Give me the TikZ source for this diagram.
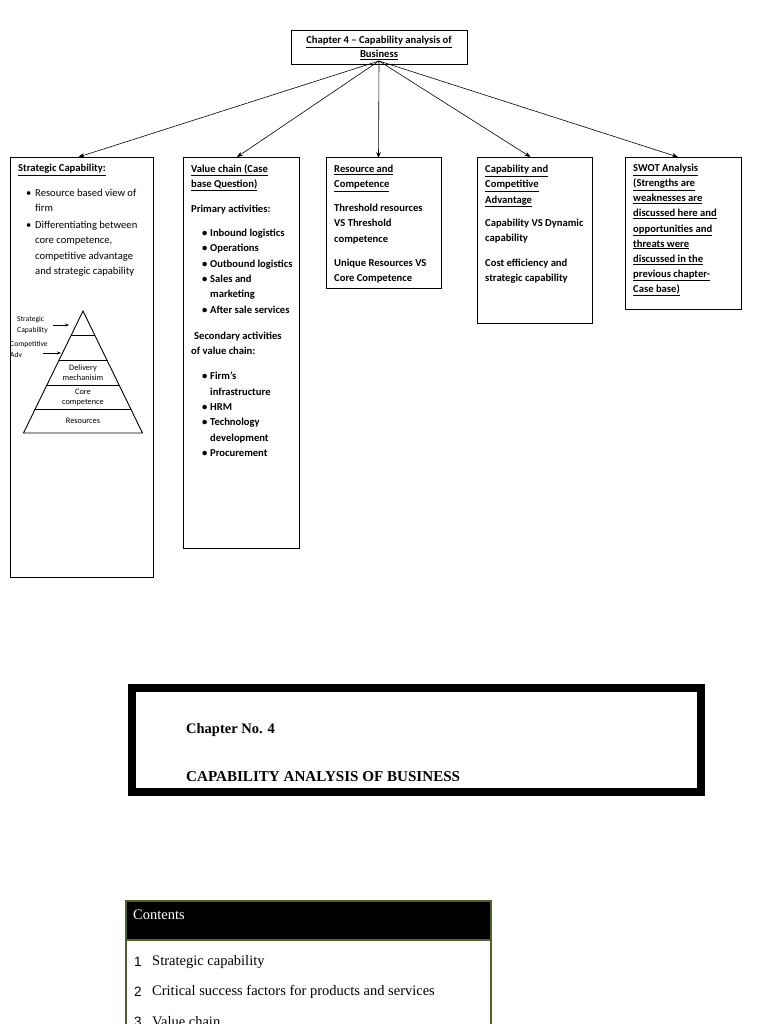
\documentclass[tikz,border=0pt]{standalone}
\usepackage{fontspec}
\setmainfont{Carlito}
\newfontfamily\timesf{Liberation Serif}
\newfontfamily\arialf{Liberation Sans}
\usetikzlibrary{arrows.meta,calc}
\definecolor{olivegreen}{HTML}{4F6228}
\begin{document}
\begin{tikzpicture}[x=1pt,y=-1pt,
  box/.style={draw, line width=0.8pt, anchor=north west, inner sep=0pt, outer sep=0pt},
  txt/.style={anchor=north west, inner sep=0pt, align=left, font=\fontsize{10.6}{15.3}\selectfont},
  btxt/.style={txt, font=\bfseries\fontsize{10.6}{15.3}\selectfont},
  small/.style={inner sep=0pt, align=center, font=\fontsize{8.3}{10}\selectfont},
  tiny/.style={inner sep=0pt, align=left, anchor=west, font=\fontsize{7.6}{10.5}\selectfont},
  arr/.style={-{Stealth[length=6pt,width=4.5pt]}, line width=0.6pt},
  sarr/.style={-{Stealth[length=4pt,width=3pt]}, line width=0.5pt}]
\useasboundingbox (0,0) rectangle (768,1024);

% top box
\node[box, minimum width=176pt, minimum height=34pt] (top) at (291,30) {};
\node[inner sep=0pt, align=center, font=\bfseries\fontsize{10.6}{14}\selectfont] (toptxt) at (379,48)
  {\underline{Chapter 4 – Capability analysis of}\\\underline{Business}};

% boxes
\node[box, minimum width=143pt, minimum height=420pt] (b1) at (10,157) {};
\node[box, minimum width=116pt, minimum height=391pt] (b2) at (183,157) {};
\node[box, minimum width=115pt, minimum height=131pt] (b3) at (326,157) {};
\node[box, minimum width=115pt, minimum height=166pt] (b4) at (477,157) {};
\node[box, minimum width=116pt, minimum height=152pt] (b5) at (625,157) {};

% arrows
\coordinate (src) at ([yshift=3pt]top.south);
\draw[arr] (src) -- ([xshift=-3pt]b1.north);
\draw[arr] (src) -- ([xshift=-4pt]b2.north);
\draw[arr] (src) -- ([xshift=-5pt,yshift=-1pt]b3.north);
\draw[arr] (src) -- ([xshift=-4pt]b4.north);
\draw[arr] (src) -- ([xshift=-5pt]b5.north);

% box 1 text
\node[btxt] (t1a) at (18,164) {\underline{Strategic Capability:}};
\node[txt] (t1b) at (26,189) {\makebox[9pt][l]{\textbullet}Resource based view of\\
  \hspace*{9pt}firm\\[1.5pt]
  \makebox[9pt][l]{\textbullet}Differentiating between\\
  \hspace*{9pt}core competence,\\
  \hspace*{9pt}competitive advantage\\
  \hspace*{9pt}and strategic capability};

% pyramid
\coordinate (ap) at (83,311);
\coordinate (bl) at (23.5,433);
\coordinate (br) at (142.5,433);
\draw[line width=0.9pt] (ap) -- (bl) -- (br) -- cycle;
\foreach \t in {0.1967,0.4016,0.6066,0.8033}
  \draw[line width=0.9pt] ($(ap)!\t!(bl)$) -- ($(ap)!\t!(br)$);
\node[small] (pd) at (83,372.5) {Delivery\\mechanisim};
\node[small] (pc) at (83,397) {Core\\competence};
\node[small] (pr) at (83,421) {Resources};
\node[tiny] (ls) at (17,325) {Strategic\\Capability};
\node[tiny] (lc) at (10,349.5) {Competitive\\Adv};
\coordinate (as1) at (53,325);
\coordinate (ae1) at (69,325);
\coordinate (as2) at (43,353);
\coordinate (ae2) at (61,353);
\draw[sarr] (as1) -- (ae1);
\draw[sarr] (as2) -- (ae2);

% box 2 text
\node[btxt] (t2a) at (191,164) {\underline{Value chain (Case}\\\underline{base Question)}};
\node[btxt] (t2b) at (191,205) {Primary activities:};
\node[btxt] (t2c) at (202,229) {\makebox[8pt][l]{\textbullet}Inbound logistics\\
  \makebox[8pt][l]{\textbullet}Operations\\
  \makebox[8pt][l]{\textbullet}Outbound logistics\\
  \makebox[8pt][l]{\textbullet}Sales and\\
  \hspace*{8pt}marketing\\
  \makebox[8pt][l]{\textbullet}After sale services};
\node[btxt] (t2d) at (191,332) {\hspace*{3pt}Secondary activities\\of value chain:};
\node[btxt] (t2e) at (202,372) {\makebox[8pt][l]{\textbullet}Firm’s\\
  \hspace*{8pt}infrastructure\\
  \makebox[8pt][l]{\textbullet}HRM\\
  \makebox[8pt][l]{\textbullet}Technology\\
  \hspace*{8pt}development\\
  \makebox[8pt][l]{\textbullet}Procurement};

% box 3 text
\node[btxt] (t3a) at (334,165) {\underline{Resource and}\\\underline{Competence}};
\node[btxt] (t3b) at (334,204) {Threshold resources\\VS Threshold\\competence};
\node[btxt] (t3c) at (334,259) {Unique Resources VS\\Core Competence};

% box 4 text
\node[btxt] (t4a) at (485,165) {\underline{Capability and}\\\underline{Competitive}\\\underline{Advantage}};
\node[btxt] (t4b) at (485,219) {Capability VS Dynamic\\capability};
\node[btxt] (t4c) at (485,259) {Cost efficiency and\\strategic capability};

% box 5 text
\node[btxt, font=\bfseries\fontsize{10.6}{15.1}\selectfont] (t5a) at (633,164) {\underline{SWOT Analysis}\\\underline{(Strengths are}\\\underline{weaknesses are}\\
  \underline{discussed here and}\\\underline{opportunities and}\\\underline{threats were}\\
  \underline{discussed in the}\\\underline{previous chapter-}\\\underline{Case base)}};

% chapter box
\node[draw, line width=8pt, anchor=north west, inner sep=0pt, outer sep=0pt, minimum width=569pt, minimum height=104pt] (chap) at (132,688) {};
\node[anchor=west, inner sep=0pt, font=\timesf\bfseries\fontsize{14.5}{17}\selectfont] (c1) at (186,730) {Chapter No. 4};
\node[anchor=west, inner sep=0pt, font=\timesf\bfseries\fontsize{15.1}{17}\selectfont] (c2) at (186,777) {CAPABILITY ANALYSIS OF BUSINESS};

% contents box
\node[draw=olivegreen, line width=2pt, anchor=north west, inner sep=0pt, outer sep=0pt, minimum width=365pt, minimum height=160pt] (cont) at (126,901) {};
\node[fill=black, draw=olivegreen, line width=2pt, anchor=north west, inner sep=0pt, outer sep=0pt, minimum width=365pt, minimum height=39pt] (conth) at (126,901) {};
\node[anchor=west, inner sep=0pt, text=white, font=\timesf\fontsize{14.5}{17}\selectfont] (ch) at (133,915) {Contents};
\node[anchor=west, inner sep=0pt, font=\arialf\fontsize{13.5}{17}\selectfont] (n1) at (134,962) {1};
\node[anchor=west, inner sep=0pt, font=\timesf\fontsize{14.5}{17}\selectfont] (e1) at (152,962) {Strategic capability};
\node[anchor=west, inner sep=0pt, font=\arialf\fontsize{13.5}{17}\selectfont] (n2) at (134,992) {2};
\node[anchor=west, inner sep=0pt, font=\timesf\fontsize{14.5}{17}\selectfont] (e2) at (152,992) {Critical success factors for products and services};
\node[anchor=west, inner sep=0pt, font=\arialf\fontsize{13.5}{17}\selectfont] (n3) at (134,1022) {3};
\node[anchor=west, inner sep=0pt, font=\timesf\fontsize{14.5}{17}\selectfont] (e3) at (152,1022) {Value chain};
\end{tikzpicture}
\end{document}
